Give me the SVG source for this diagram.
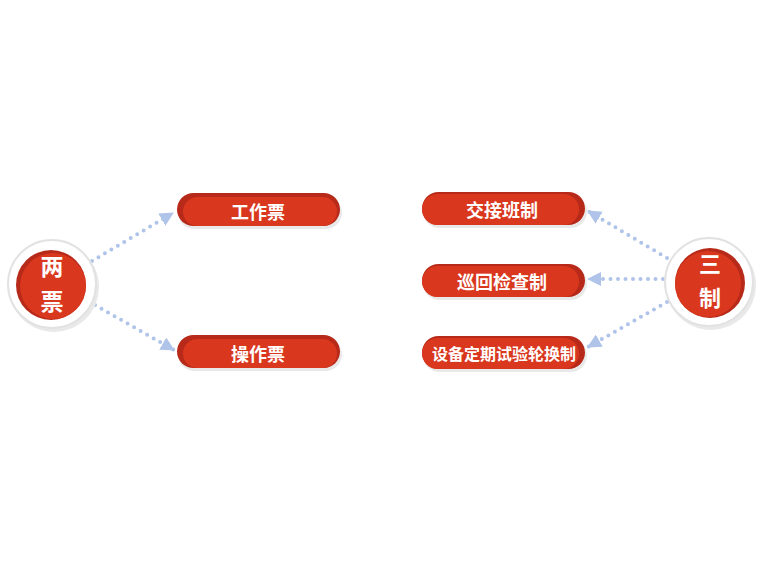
<svg xmlns="http://www.w3.org/2000/svg" width="760" height="570" viewBox="0 0 760 570">
<style>
.pill-dark{fill:#B72A19}
.pill-light{fill:#D9371E}
.shadow{fill:#E9E9E9}
.ring{fill:#FFFFFF;stroke:#E2E2E2;stroke-width:2}
.lbl{font-family:"Noto Sans CJK SC","Noto Sans",sans-serif;font-weight:bold;fill:#FFFFFF;text-anchor:middle;dominant-baseline:central}
.conn{fill:none;stroke:#AFC4E8;stroke-width:4;stroke-linecap:round;stroke-dasharray:0 7.5}
</style>
<defs>
<marker id="arr" markerUnits="userSpaceOnUse" markerWidth="14" markerHeight="14" viewBox="0 0 14 14" refX="13" refY="7" orient="auto">
<path d="M0,0 L14,7 L0,14 Z" fill="#AFC4E8"/>
</marker>
</defs>
<rect width="760" height="570" fill="#FFFFFF"/>
<g id="connectors">
<line class="conn" x1="92" y1="261" x2="173" y2="213" marker-end="url(#arr)"/>
<line class="conn" x1="95" y1="305" x2="174" y2="350" marker-end="url(#arr)"/>
<line class="conn" x1="667" y1="258" x2="588" y2="211" marker-end="url(#arr)"/>
<line class="conn" x1="663" y1="279" x2="588" y2="279" marker-end="url(#arr)"/>
<line class="conn" x1="667" y1="302" x2="588" y2="347" marker-end="url(#arr)"/>
</g>
<g id="node-liangpiao">
<circle class="shadow" cx="54" cy="287" r="45"/>
<circle class="ring" cx="52" cy="284" r="44"/>
<circle class="pill-dark" cx="51" cy="285" r="35"/>
<circle class="pill-light" cx="53" cy="286" r="33"/>
<text class="lbl" x="52" y="265" font-size="23">两</text>
<text class="lbl" x="52" y="300" font-size="23">票</text>
</g>
<g id="node-sanzhi">
<circle class="shadow" cx="711" cy="285" r="45"/>
<circle class="ring" cx="709" cy="282" r="44"/>
<circle class="pill-dark" cx="710" cy="283" r="35"/>
<circle class="pill-light" cx="708" cy="284" r="33"/>
<text class="lbl" x="710" y="262" font-size="22">三</text>
<text class="lbl" x="710" y="296" font-size="22">制</text>
</g>
<g id="node-gongzuopiao">
<rect class="shadow" x="178" y="196" width="164" height="33" rx="16.5"/>
<rect class="pill-dark" x="177" y="193" width="163" height="33" rx="16.5"/>
<rect class="pill-light" x="183" y="197" width="154" height="29" rx="14.5"/>
<text class="lbl" x="258" y="211" font-size="18">工作票</text>
</g>
<g id="node-caozuopiao">
<rect class="shadow" x="178" y="338" width="164" height="33" rx="16.5"/>
<rect class="pill-dark" x="177" y="335" width="163" height="33" rx="16.5"/>
<rect class="pill-light" x="183" y="339" width="154" height="29" rx="14.5"/>
<text class="lbl" x="258" y="353" font-size="18">操作票</text>
</g>
<g id="node-jiaojieban">
<rect class="shadow" x="423" y="195" width="164" height="33" rx="16.5"/>
<rect class="pill-dark" x="422" y="192" width="163" height="33" rx="16.5"/>
<rect class="pill-light" x="422" y="194" width="157" height="31" rx="15.5"/>
<text class="lbl" x="502" y="209" font-size="18">交接班制</text>
</g>
<g id="node-xunhui">
<rect class="shadow" x="423" y="267" width="164" height="33" rx="16.5"/>
<rect class="pill-dark" x="422" y="264" width="163" height="33" rx="16.5"/>
<rect class="pill-light" x="422" y="266" width="157" height="31" rx="15.5"/>
<text class="lbl" x="502" y="281" font-size="18">巡回检查制</text>
</g>
<g id="node-shebei">
<rect class="shadow" x="423" y="339" width="164" height="33" rx="16.5"/>
<rect class="pill-dark" x="422" y="336" width="163" height="33" rx="16.5"/>
<rect class="pill-light" x="422" y="338" width="157" height="31" rx="15.5"/>
<text class="lbl" x="504" y="353" font-size="16">设备定期试验轮换制</text>
</g>
</svg>
